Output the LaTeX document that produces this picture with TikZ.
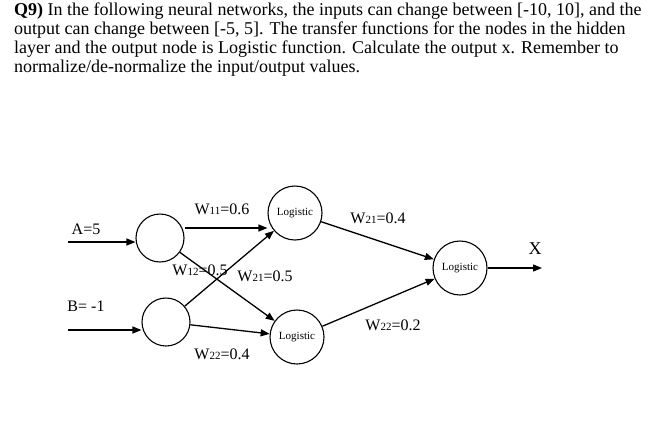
\documentclass[tikz,border=0pt]{standalone}
\usepackage{fontspec}
\setmainfont{Liberation Serif}
\usetikzlibrary{arrows.meta}
\begin{document}
\begin{tikzpicture}[x=1pt,y=-1pt,
  neuron/.style={circle,draw,line width=1.1pt,minimum size=48pt,inner sep=0pt},
  hid/.style={circle,draw,line width=1.1pt,minimum size=54pt,inner sep=0pt,font=\fontsize{11}{12}\selectfont},
  lbl/.style={font=\fontsize{16}{18}\selectfont,inner sep=1pt},
  con/.style={line width=1.3pt,-{Triangle[length=9pt,width=7pt]}}]
\useasboundingbox (0,0) rectangle (660,421);
\node[anchor=north west,align=left,font=\fontsize{18}{19}\selectfont,inner sep=0pt] (q) at (14,3)
 {\textbf{Q9)} In the following neural networks, the inputs can change between [-10, 10], and the\\
 output can change between [-5, 5]. The transfer functions for the nodes in the hidden\\
 layer and the output node is Logistic function. Calculate the output x. Remember to\\
 normalize/de-normalize the input/output values.};
\node[neuron] (i1) at (160,238) {};
\node[neuron] (i2) at (166,322) {};
\node[hid] (h1) at (295,213) {Logistic};
\node[hid] (h2) at (297,337) {Logistic};
\node[hid] (o) at (460,268) {Logistic};
\node[lbl] (la) at (86,229) {A=5};
\node[lbl] (lb) at (86,306) {B= -1};
\coordinate (as) at (68,242);
\coordinate (bs) at (68,330);
\coordinate (xe) at (542,268);
\node[lbl,font=\fontsize{18}{19}\selectfont] (lx) at (535,249) {X};
\draw[con] (as) -- (i1.west |- as);
\draw[con] (bs) -- (i2.west |- bs);
\draw[con] (o) -- (xe);
\draw[con] (i1.east) ++(0,-10) coordinate (c1) -- (h1.west |- c1) ;
\draw[con] (i1) -- (h2);
\draw[con] (i2) -- (h1);
\draw[con] (i2) -- (h2);
\draw[con] (h1) -- (o);
\draw[con] (h2) -- (o);
\node[lbl] (w11) at (222,209) {W{\fontsize{11}{12}\selectfont 11}=0.6};
\node[lbl] (w12) at (200,270) {W{\fontsize{11}{12}\selectfont 12}=0.5};
\node[lbl] (w21a) at (265,276) {W{\fontsize{11}{12}\selectfont 21}=0.5};
\node[lbl] (w21b) at (378,218) {W{\fontsize{11}{12}\selectfont 21}=0.4};
\node[lbl] (w22a) at (393,325) {W{\fontsize{11}{12}\selectfont 22}=0.2};
\node[lbl] (w22b) at (222,354) {W{\fontsize{11}{12}\selectfont 22}=0.4};
\end{tikzpicture}
\end{document}
